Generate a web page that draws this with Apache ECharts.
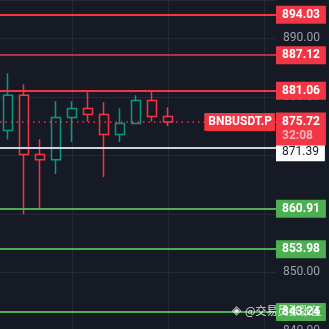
<!DOCTYPE html>
<html>
<head>
<meta charset="utf-8">
<script src="https://cdn.jsdelivr.net/npm/echarts@6/dist/echarts.min.js"></script>
<style>
html,body{margin:0;padding:0;background:#161a25;}
#c{width:329px;height:329px;}
</style>
</head>
<body>
<div id="c"></div>
<script>
// ---- data ----
const categories = ['1','2','3','4','5','6','7','8','9','10','11','12','13','14','15','16','17'];
const openVals  = [874.25, 880.29, 870.14, 869.28, 876.47, 878.01, 876.99, 873.56, 875.45, 879.38, 876.64];
const closeVals = [880.29, 870.14, 869.28, 876.47, 878.01, 876.99, 873.56, 875.45, 879.38, 876.64, 875.72];
const lowVals   = [872.71, 859.97, 860.65, 866.82, 872.30, 875.79, 866.30, 872.30, 875.45, 875.79, 875.03];
const highVals  = [884.06, 882.17, 872.76, 879.26, 879.26, 880.80, 879.09, 878.07, 880.29, 881.06, 878.24];
const resistanceLevels = [894.03, 887.12, 881.06];
const supportLevels = [860.91, 853.98, 843.24];
const lastPrice = 875.72;
const countdown = '32:08';
const refLevel = 871.39;
const symbolName = 'BNBUSDT.P';
const watermark = '@交易员张张伍';

const RED = '#f23645', TEAL = '#089981', GREEN = '#4caf50', BG = '#161a25', GRID = '#242936';
const yMin = 840, yMax = 896.56;

const candleData = openVals.map((o, i) => [o, closeVals[i], lowVals[i], highVals[i]]);

function boxLabel(bg, fg, extra) {
  return Object.assign({
    show: true, position: 'end', distance: 0,
    backgroundColor: bg, color: fg,
    fontSize: 12, fontWeight: 'bold', fontFamily: 'Roboto',
    padding: [3, 6, 2, 6], lineHeight: 13,
    formatter: p => p.value.toFixed(2)
  }, extra || {});
}

const lines = [];
resistanceLevels.forEach((v, i) => {
  const c = i === 1 ? '#b8303d' : RED;
  lines.push({ yAxis: v, lineStyle: { color: c, width: 2, type: 'solid' }, label: boxLabel(RED, '#ffffff') });
});
supportLevels.forEach(v => {
  lines.push({ yAxis: v, lineStyle: { color: GREEN, width: 2, type: 'solid' }, label: boxLabel(GREEN, '#ffffff') });
});
lines.push({ yAxis: refLevel, lineStyle: { color: '#d1d4dc', width: 2, type: 'solid' },
  label: boxLabel('#ffffff', '#131722', { offset: [0, 5], fontWeight: 'normal' }) });
lines.push({ yAxis: lastPrice, lineStyle: { color: RED, width: 1.5, type: [1.5, 4] },
  label: boxLabel(RED, '#ffffff', {
    offset: [0, 7],
    formatter: p => '{p|' + p.value.toFixed(2) + '}\n{t|' + countdown + '}',
    rich: {
      p: { color: '#ffffff', fontSize: 12, fontWeight: 'bold', fontFamily: 'Roboto', lineHeight: 14 },
      t: { color: '#f9b3ba', fontSize: 12, fontWeight: 'bold', fontFamily: 'Roboto', lineHeight: 14 }
    }
  }) });

const chart = echarts.init(document.getElementById('c'), null, { renderer: 'canvas' });
chart.setOption({
  backgroundColor: BG,
  animation: false,
  grid: [
    { left: 0, right: 57, top: 0, bottom: -2, outerBoundsMode: 'none', containLabel: false },
    { left: 0, right: 53, top: 0, bottom: -2, outerBoundsMode: 'none', containLabel: false }
  ],
  xAxis: [
    { type: 'category', gridIndex: 0, data: categories, boundaryGap: true,
      axisLine: { show: false }, axisTick: { show: false }, axisLabel: { show: false },
      splitLine: { show: true, alignWithLabel: true, interval: (i) => i % 6 === 4,
        lineStyle: { color: GRID, width: 1 } } },
    { type: 'value', gridIndex: 1, min: 0, max: 1, show: false }
  ],
  yAxis: [
    { type: 'value', gridIndex: 0, min: yMin, max: yMax, show: false, splitLine: { show: false } },
    { type: 'value', gridIndex: 1, min: yMin, max: yMax, interval: 10, position: 'right',
      axisLine: { show: false }, axisTick: { show: false },
      splitLine: { show: true, lineStyle: { color: GRID, width: 1 } },
      axisLabel: { show: true, margin: 7, color: '#9ea1aa', fontSize: 12, fontFamily: 'Roboto',
        formatter: v => (Math.abs(v % 10) < 1e-6 ? v.toFixed(2) : '') } }
  ],
  series: [
    { type: 'candlestick', xAxisIndex: 0, yAxisIndex: 0, data: candleData, barWidth: 10,
      itemStyle: { color: BG, color0: BG, borderColor: TEAL, borderColor0: RED, borderWidth: 1.5 },
      z: 3 },
    { type: 'line', xAxisIndex: 1, yAxisIndex: 1, data: [], symbol: 'none', z: 4,
      markLine: { silent: true, symbol: ['none', 'none'], animation: false, data: lines },
      markPoint: { silent: true, animation: false, symbol: 'rect', symbolSize: 0,
        data: [{ coord: [1, lastPrice], value: symbolName,
          label: { show: true, position: 'left', distance: 1, formatter: symbolName,
            backgroundColor: RED, color: '#ffffff', fontSize: 12, fontWeight: 'bold', fontFamily: 'Roboto',
            padding: [3, 3, 2, 4], lineHeight: 13 } }] } }
  ],
  graphic: [
    { type: 'text', left: 232, top: 305, z: 100,
      style: { text: '◈', fill: 'rgba(255,255,255,0.85)', font: '12px "DejaVu Sans"' } },
    { type: 'text', left: 245, top: 305, z: 100,
      style: { text: watermark, fill: 'rgba(255,255,255,0.85)', font: '11px "Noto Sans CJK SC"' } }
  ]
});
</script>
</body>
</html>
